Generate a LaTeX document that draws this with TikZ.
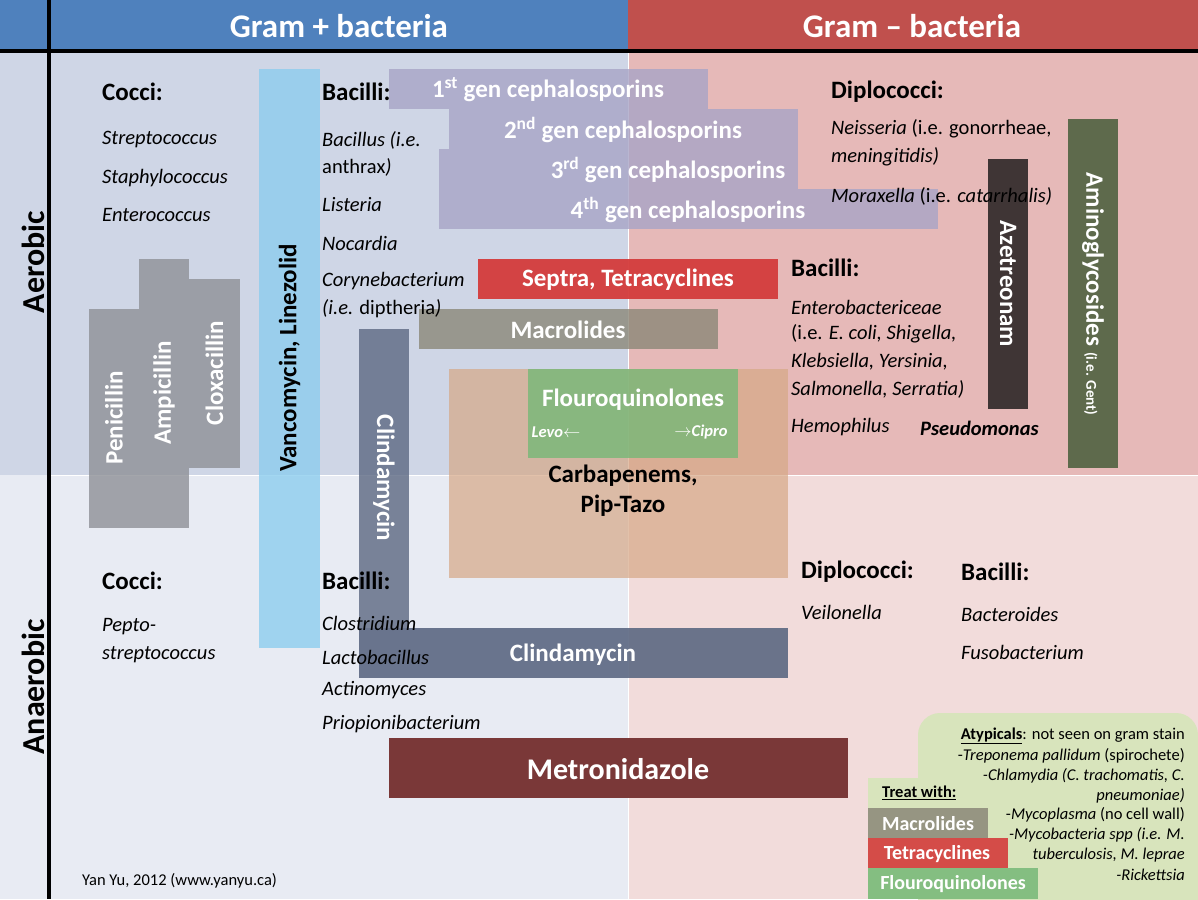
\documentclass[tikz,border=0pt]{standalone}
\usepackage{fontspec}
\setmainfont{Carlito}
\begin{document}
\begin{tikzpicture}[x=1pt,y=-1pt,
  lbl/.style={anchor=west, inner sep=0, font=\fontsize{20.5}{22}\selectfont},
  hd/.style={lbl, font=\fontsize{25}{27}\selectfont\bfseries},
  drug/.style={text=white, font=\fontsize{25}{27}\selectfont\bfseries, inner sep=0},
  atyp/.style={anchor=east, inner sep=0, font=\fontsize{16.5}{18}\selectfont},
  op/.style={fill opacity=0.8}]
\definecolor{gpos}{HTML}{4F81BD}\definecolor{gneg}{HTML}{C0504D}
\definecolor{qtl}{HTML}{CFD6E6}\definecolor{qtr}{HTML}{E6B9B8}
\definecolor{qbl}{HTML}{E8EBF3}\definecolor{qbr}{HTML}{F2DCDB}
\definecolor{vanc}{HTML}{8DCDEE}\definecolor{pen}{HTML}{8E9097}
\definecolor{ceph}{HTML}{A8A4C6}\definecolor{septra}{HTML}{D43C3C}
\definecolor{macro}{HTML}{8B8878}\definecolor{clinda}{HTML}{5C6882}
\definecolor{carba}{HTML}{D6A886}\definecolor{fluoro}{HTML}{76B877}
\definecolor{metro}{HTML}{7A3838}\definecolor{aztr}{HTML}{3F3535}
\definecolor{amino}{HTML}{5E6A4C}\definecolor{atypc}{HTML}{D8E4BC}
\useasboundingbox (0,0) rectangle (1198,899);
% quadrants
\fill[qtl] (0,50) rectangle (628,475);
\fill[qtr] (628,50) rectangle (1198,475);
\fill[qbl] (0,475) rectangle (628,899);
\fill[qbr] (628,475) rectangle (1198,899);
\fill[gpos] (0,0) rectangle (628,50);
\fill[gneg] (628,0) rectangle (1198,50);
\draw[white, line width=0.8] (628,50) -- (628,899) (49,475) -- (1198,475);
\draw[line width=3.5] (49,0) -- (49,899) (0,51) -- (1198,51);
\node[drug, font=\fontsize{33}{35}\selectfont\bfseries] (gp) at (339,26) {Gram + bacteria};
\node[drug, font=\fontsize{33}{35}\selectfont\bfseries] (gn) at (912,26) {Gram -- bacteria};
\node[rotate=90, font=\fontsize{32}{34}\selectfont\bfseries, inner sep=0] (aer) at (33,262) {Aerobic};
\node[rotate=90, font=\fontsize{32}{34}\selectfont\bfseries, inner sep=0] (anaer) at (33,687) {Anaerobic};
% drug boxes
\fill[op, vanc] (259,69) rectangle (320,648);
\fill[op, pen] (89,309) rectangle (139,528);
\fill[op, pen] (139,259) rectangle (189,528);
\fill[op, pen] (189,279) rectangle (240,468);
\fill[op, ceph] (389,69) rectangle (708,109);
\fill[op, ceph] (449,109) rectangle (798,149);
\fill[op, ceph] (439,149) rectangle (798,189);
\fill[op, ceph] (439,189) rectangle (938,229);
\fill[op, septra, fill opacity=0.95] (478,259) rectangle (778,299);
\fill[op, macro] (419,309) rectangle (718,349);
\fill[op, clinda] (359,329) rectangle (409,628);
\fill[op, carba, fill opacity=0.7] (449,369) rectangle (788,578);
\fill[op, fluoro] (528,369) rectangle (738,458);
\fill[op, clinda, fill opacity=0.9] (359,628) rectangle (788,678);
\fill[metro] (389,738) rectangle (848,798);
\fill[aztr] (988,159) rectangle (1028,409);
\fill[amino] (1068,119) rectangle (1118,468);
% drug names
\node[drug, text=black, rotate=90] (van) at (289.5,358) {Vancomycin, Linezolid};
\node[drug, rotate=90] (pn) at (114,418) {Penicillin};
\node[drug, rotate=90] (amp) at (164,393) {Ampicillin};
\node[drug, rotate=90] (clox) at (214.5,373) {Cloxacillin};
\node[drug] (c1) at (548,90) {1\textsuperscript{st} gen cephalosporins};
\node[drug] (c2) at (623,130) {2\textsuperscript{nd} gen cephalosporins};
\node[drug] (c3) at (668,170) {3\textsuperscript{rd} gen cephalosporins};
\node[drug] (c4) at (688,210) {4\textsuperscript{th} gen cephalosporins};
\node[drug] (sep) at (628,280) {Septra, Tetracyclines};
\node[drug] (mac) at (568,330) {Macrolides};
\node[drug, rotate=270] (clv) at (384,478) {Clindamycin};
\node[drug, text=black, align=center, font=\fontsize{25}{30}\selectfont\bfseries] (car) at (623,491) {Carbapenems,\\Pip-Tazo};
\node[drug] (flq) at (633,400) {Flouroquinolones};
\node[drug, font=\fontsize{16.5}{18}\selectfont\bfseries\itshape] (levo) at (556,432) {Levo$\leftarrow$};
\node[drug, font=\fontsize{16.5}{18}\selectfont\bfseries\itshape] (cip) at (701,432) {$\rightarrow$Cipro};
\node[drug] (clh) at (573,655) {Clindamycin};
\node[drug, font=\fontsize{30}{32}\selectfont\bfseries] (met) at (618,769) {Metronidazole};
\node[drug, rotate=270] (azt) at (1008,284) {Azetreonam};
\node[drug, rotate=270] (amg) at (1093,294) {Aminoglycosides {\fontsize{15}{17}\selectfont(i.e. Gent)}};
% bacteria
\node[hd] (cocA) at (102,92) {Cocci:};
\node[lbl] at (102,140) {\itshape Streptococcus};
\node[lbl] at (102,178) {\itshape Staphylococcus};
\node[lbl] at (102,215) {\itshape Enterococcus};
\node[hd] (bacA) at (322,92) {Bacilli:};
\node[lbl] at (322,140) {\itshape Bacillus (i.e.};
\node[lbl] at (322,167) {anthrax\itshape)};
\node[lbl] at (322,205) {\itshape Listeria};
\node[lbl] at (322,243) {\itshape Nocardia};
\node[lbl] at (322,281) {\itshape Corynebacterium};
\node[lbl] at (322,309) {\itshape (i.e. \upshape diptheria\itshape)};
\node[hd] (dipA) at (831,92) {Diplococci:};
\node[lbl] at (831,129) {\itshape Neisseria \upshape(i.e. gonorrheae,};
\node[lbl] at (831,157) {\itshape meningitidis)};
\node[lbl] at (831,196) {\itshape Moraxella \upshape(i.e. \itshape catarrhalis)};
\node[hd] (bacN) at (791,268) {Bacilli:};
\node[lbl] at (791,307) {\itshape Enterobactericeae};
\node[lbl] at (791,334) {(i.e. \itshape E. coli, Shigella,};
\node[lbl] at (791,362) {\itshape Klebsiella, Yersinia,};
\node[lbl] at (791,389) {\itshape Salmonella, Serratia)};
\node[lbl] at (791,427) {\itshape Hemophilus};
\node[lbl] at (920,428) {\bfseries\itshape Pseudomonas};
\node[hd] (cocB) at (102,581) {Cocci:};
\node[lbl] at (102,627) {\itshape Pepto-};
\node[lbl] at (102,655) {\itshape streptococcus};
\node[hd] (bacB) at (322,581) {Bacilli:};
\node[lbl] at (322,623) {\itshape Clostridium};
\node[lbl] at (322,657) {\itshape Lactobacillus};
\node[lbl] at (322,690) {\itshape Actinomyces};
\node[lbl] at (322,724) {\itshape Priopionibacterium};
\node[hd] (dipB) at (801,572) {Diplococci:};
\node[lbl] at (801,612) {\itshape Veilonella};
\node[hd] (bacC) at (961,572) {Bacilli:};
\node[lbl] at (961,614) {\itshape Bacteroides};
\node[lbl] at (961,652) {\itshape Fusobacterium};
\node[lbl, font=\fontsize{16.5}{18}\selectfont] (cred) at (82,881) {Yan Yu, 2012 (www.yanyu.ca)};
% atypicals
\fill[atypc] (868,778) rectangle (930,899);
\fill[atypc, rounded corners=22] (918,713) rectangle (1198,920);
\node[atyp] (aty) at (1185,736) {\underline{\bfseries Atypicals}: not seen on gram stain};
\node[atyp] at (1185,756) {-\itshape Treponema pallidum \upshape(spirochete)};
\node[atyp] at (1185,776) {\itshape -Chlamydia (C. trachomatis, C.};
\node[atyp] at (1185,796) {\itshape pneumoniae)};
\node[atyp] at (1185,815) {-\itshape Mycoplasma \upshape(no cell wall)};
\node[atyp] at (1185,835) {\itshape -Mycobacteria spp (i.e. M.};
\node[atyp] at (1185,855) {\itshape tuberculosis, M. leprae};
\node[atyp] at (1185,875) {\itshape -Rickettsia};
\node[anchor=west, inner sep=0, font=\fontsize{16.5}{18}\selectfont\bfseries] (tw) at (882,793) {\underline{Treat with:}};
\fill[macro, fill opacity=0.85] (868,808) rectangle (988,838);
\node[drug, font=\fontsize{20}{22}\selectfont\bfseries] (tmac) at (928,824) {Macrolides};
\fill[septra, fill opacity=0.9] (868,838) rectangle (1008,868);
\node[drug, font=\fontsize{20}{22}\selectfont\bfseries] (ttet) at (937,854) {Tetracyclines};
\fill[fluoro, fill opacity=0.85] (868,868) rectangle (1038,899);
\node[drug, font=\fontsize{20}{22}\selectfont\bfseries] (tflq) at (953,884) {Flouroquinolones};
\end{tikzpicture}
\end{document}
